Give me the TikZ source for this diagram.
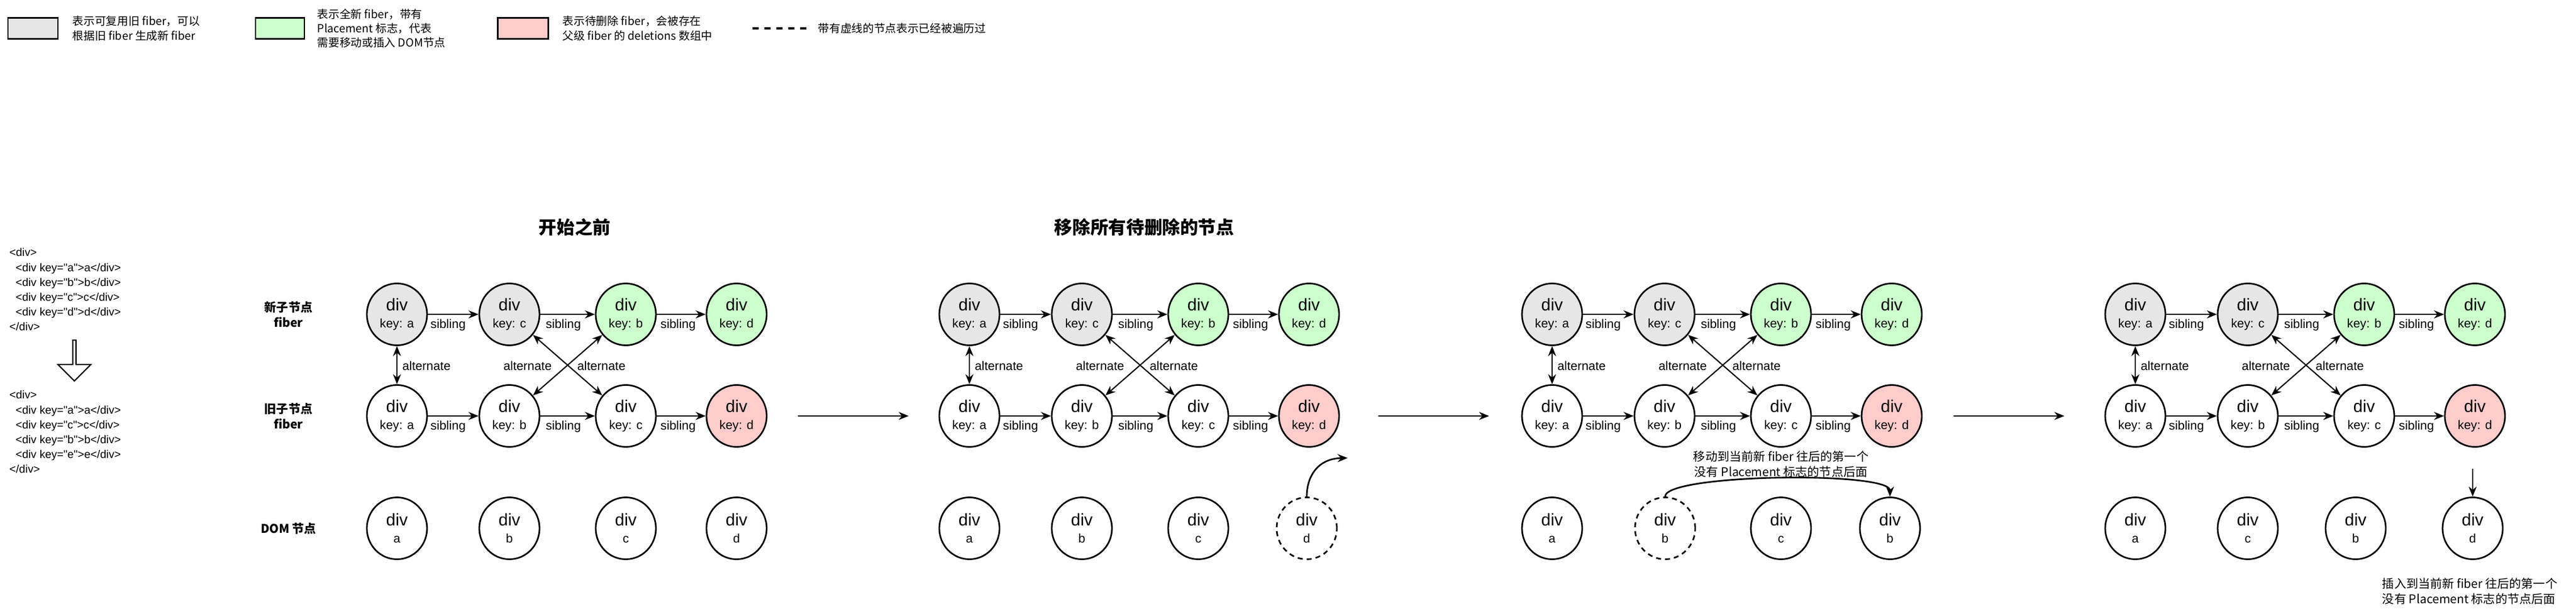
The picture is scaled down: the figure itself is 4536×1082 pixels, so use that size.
\documentclass[tikz,border=0pt]{standalone}
\usepackage{fontspec}
\setmainfont{Noto Sans CJK SC}
\newfontfamily\latinf{Liberation Sans}
\usetikzlibrary{arrows.meta,shapes.arrows,shapes.geometric}
\definecolor{gfill}{HTML}{E6E6E6}
\definecolor{nfill}{HTML}{CCFFCC}
\definecolor{rfill}{HTML}{FFCCCC}
\tikzset{
  fib/.style={draw,line width=0.8pt,ellipse,minimum width=1.06cm,minimum height=1.09cm,inner sep=0pt,align=center,font=\latinf\fontsize{8.5}{9.5}\selectfont},
  arr/.style={line width=0.8pt,-{Stealth[length=5pt,width=4pt]}},
  barr/.style={line width=0.6pt,{Stealth[length=5pt,width=4pt]}-{Stealth[length=5pt,width=4pt]}},
  lbl/.style={font=\latinf\fontsize{6.2}{7}\selectfont,inner sep=0pt},
  note/.style={font=\fontsize{6}{7.6}\selectfont,inner sep=0pt},
  rowlbl/.style={font=\bfseries\fontsize{6}{7.5}\selectfont,align=center},
  ttl/.style={font=\bfseries\fontsize{9}{10}\selectfont},
  code/.style={font=\latinf\fontsize{5.6}{7.4}\selectfont,align=left,anchor=north west,inner sep=0pt},
  leg/.style={font=\fontsize{5.6}{7.2}\selectfont,align=left,anchor=west,inner sep=0pt},
  ddash/.style={dash pattern=on 2.5pt off 2pt},
}
\newcommand{\divtxt}[1]{div\\[-1pt]{\fontsize{6.2}{7}\selectfont #1}}
\newcommand{\fiberpanel}[2]{%
 \begin{scope}[xshift=#2*0.01cm]
  \node[fib,fill=gfill] (#1t1) at (0,554) {\divtxt{key: a}};
  \node[fib,fill=gfill] (#1t2) at (198,554) {\divtxt{key: c}};
  \node[fib,fill=nfill] (#1t3) at (403,554) {\divtxt{key: b}};
  \node[fib,fill=nfill] (#1t4) at (598,554) {\divtxt{key: d}};
  \node[fib] (#1b1) at (0,733) {\divtxt{key: a}};
  \node[fib] (#1b2) at (198,733) {\divtxt{key: b}};
  \node[fib] (#1b3) at (403,733) {\divtxt{key: c}};
  \node[fib,fill=rfill] (#1b4) at (598,733) {\divtxt{key: d}};
  \foreach \r in {t,b}{
   \draw[arr] (#1\r1) -- (#1\r2);
   \draw[arr] (#1\r2) -- (#1\r3);
   \draw[arr] (#1\r3) -- (#1\r4);}
  \node[lbl] (#1s1) at (90,573) {sibling};
  \node[lbl] (#1s2) at (293,573) {sibling};
  \node[lbl] (#1s3) at (495,573) {sibling};
  \node[lbl] (#1s4) at (90,752) {sibling};
  \node[lbl] (#1s5) at (293,752) {sibling};
  \node[lbl] (#1s6) at (495,752) {sibling};
  \draw[barr] (#1t1) -- (#1b1);
  \draw[barr] (#1t2) -- (#1b3);
  \draw[barr] (#1t3) -- (#1b2);
  \node[lbl] (#1a1) at (52,645) {alternate};
  \node[lbl] (#1a2) at (230,645) {alternate};
  \node[lbl] (#1a3) at (360,645) {alternate};
 \end{scope}}
\begin{document}
\begin{tikzpicture}[x=0.01cm,y=-0.01cm]
\useasboundingbox (0,0) rectangle (4536,1082);
% legend
\node[draw,line width=0.8pt,fill=gfill,minimum width=0.88cm,minimum height=0.37cm,inner sep=0pt] (lg1) at (58,50) {};
\node[leg] (lt1) at (127,50) {表示可复用旧 fiber，可以\\根据旧 fiber 生成新 fiber};
\node[draw,line width=0.8pt,fill=nfill,minimum width=0.86cm,minimum height=0.37cm,inner sep=0pt] (lg2) at (493,50) {};
\node[leg] (lt2) at (558,50) {表示全新 fiber，带有\\Placement 标志，代表\\需要移动或插入 DOM节点};
\node[draw,line width=0.8pt,fill=rfill,minimum width=0.89cm,minimum height=0.37cm,inner sep=0pt] (lg3) at (921,50) {};
\node[leg] (lt3) at (990,50) {表示待删除 fiber，会被存在\\父级 fiber 的 deletions 数组中};
\coordinate (ld1) at (1325,50); \coordinate (ld2) at (1422,50);
\draw[line width=1.2pt,dashed] (ld1) -- (ld2);
\node[leg] (lt4) at (1440,50) {带有虚线的节点表示已经被遍历过};
% code
\node[code] (c1) at (16,437) {<div>\\\ \ <div key="a">a</div>\\\ \ <div key="b">b</div>\\\ \ <div key="c">c</div>\\\ \ <div key="d">d</div>\\</div>};
\node[code] (c2) at (16,688) {<div>\\\ \ <div key="a">a</div>\\\ \ <div key="c">c</div>\\\ \ <div key="b">b</div>\\\ \ <div key="e">e</div>\\</div>};
\node[draw,line width=0.6pt,single arrow,shape border rotate=270,minimum height=0.72cm,minimum width=0.58cm,single arrow head extend=0.1cm,inner sep=0pt] (down) at (131,634) {};
% row labels
\node[rowlbl] (r1) at (508,554) {新子节点\\fiber};
\node[rowlbl] (r2) at (508,733) {旧子节点\\fiber};
\node[rowlbl] (r3) at (508,931) {DOM 节点};
% titles
\node[ttl] (ti1) at (1012,400) {开始之前};
\node[ttl] (ti2) at (2015,400) {移除所有待删除的节点};
% panels
\fiberpanel{p}{699}
\fiberpanel{q}{1707}
\fiberpanel{r}{2733}
\fiberpanel{s}{3760}
% transitions
\coordinate (h1a) at (1405,733); \coordinate (h1b) at (1600,733);
\coordinate (h2a) at (2427,733); \coordinate (h2b) at (2622,733);
\coordinate (h3a) at (3440,733); \coordinate (h3b) at (3635,733);
\draw[arr,line width=0.6pt] (h1a) -- (h1b);
\draw[arr,line width=0.6pt] (h2a) -- (h2b);
\draw[arr,line width=0.6pt] (h3a) -- (h3b);
% DOM panel 1
\node[fib] (d1a) at (699,931) {\divtxt{a}};
\node[fib] (d1b) at (897,931) {\divtxt{b}};
\node[fib] (d1c) at (1102,931) {\divtxt{c}};
\node[fib] (d1d) at (1297,931) {\divtxt{d}};
% DOM panel 2
\node[fib] (d2a) at (1707,931) {\divtxt{a}};
\node[fib] (d2b) at (1905,931) {\divtxt{b}};
\node[fib] (d2c) at (2110,931) {\divtxt{c}};
\node[fib,ddash] (d2d) at (2301,931) {\divtxt{d}};
\coordinate (out2) at (2373,807);
\draw[arr] (d2d.north) .. controls (2301,840) and (2320,808) .. (out2);
% DOM panel 3
\node[fib] (d3a) at (2733,931) {\divtxt{a}};
\node[fib,ddash] (d3b) at (2932,931) {\divtxt{b}};
\node[fib] (d3c) at (3136,931) {\divtxt{c}};
\node[fib] (d3d) at (3328,931) {\divtxt{b}};
\draw[arr] (d3b.north) .. controls (2932,835) and (3328,830) .. (d3d.north);
\node[note,align=center] (n3) at (3136,818) {移动到当前新 fiber 往后的第一个\\没有 Placement 标志的节点后面};
% DOM panel 4
\node[fib] (d4a) at (3760,931) {\divtxt{a}};
\node[fib] (d4b) at (3958,931) {\divtxt{c}};
\node[fib] (d4c) at (4148,931) {\divtxt{b}};
\node[fib] (d4d) at (4354,931) {\divtxt{d}};
\coordinate (in4) at (4354,826);
\draw[arr,line width=0.6pt] (in4) -- (d4d.north);
\node[note,align=left] (n4) at (4349,1042) {插入到当前新 fiber 往后的第一个\\没有 Placement 标志的节点后面};
\end{tikzpicture}
\end{document}
